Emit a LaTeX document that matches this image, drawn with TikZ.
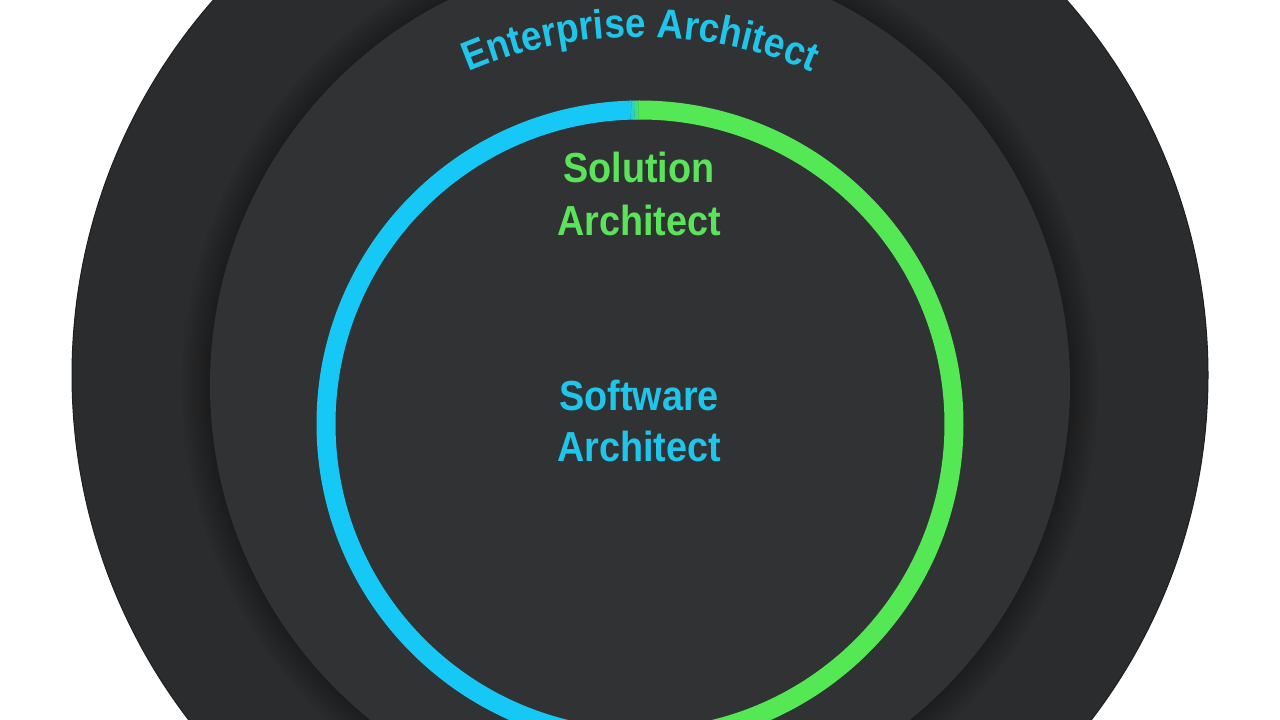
\documentclass[tikz,border=0pt]{standalone}
\usepackage{fontspec}
\setmainfont{Liberation Sans}
\newfontfamily\labfont[FakeStretch=0.9]{Liberation Sans}
\usetikzlibrary{decorations.text}
\definecolor{outerdisc}{RGB}{43,44,46}
\definecolor{outeredge}{RGB}{30,31,33}
\definecolor{middisc}{RGB}{49,50,52}
\definecolor{ringblue}{RGB}{22,200,245}
\definecolor{ringgreen}{RGB}{85,232,85}
\definecolor{textblue}{RGB}{30,198,235}
\definecolor{textgreen}{RGB}{90,228,90}
\newcommand\entfmt{\labfont\bfseries\fontsize{41}{44}\selectfont\color{textblue}}
\begin{document}
\begin{tikzpicture}[x=1pt,y=1pt,
  lab/.style={font=\labfont\bfseries\fontsize{42}{46}\selectfont, inner sep=0pt, anchor=base},
  ringarc/.style={line width=19pt, line cap=butt}]
\useasboundingbox (0,0) rectangle (1280,720);
\clip (0,0) rectangle (1280,720);
\fill[white] (0,0) rectangle (1280,720);
% outer disc
\fill[outerdisc, draw=outeredge, line width=1pt] (640,345) circle (568);
% middle disc with soft shadow
\foreach \k in {1,...,14} \fill[black,opacity=0.025] (640,335) circle ({430+2*\k});
\fill[middisc] (640,335) circle (430);
% inner ring
\draw[ringarc, ringblue] ([shift={(92:314)}]640,296) arc[start angle=92, end angle=270, radius=314];
\draw[ringarc, ringgreen] ([shift={(-90.1:314)}]640,296) arc[start angle=-90.1, end angle=90.1, radius=314];
\foreach \i in {0,...,7} {
  \pgfmathsetmacro\a{90+\i*0.25}
  \pgfmathsetmacro\p{100-\i*100/7}
  \draw[ringarc, ringgreen!\p!ringblue] ([shift={(\a:314)}]640,296) arc[start angle=\a, end angle=\a+0.3, radius=314];
}
% curved label
\path[decorate, decoration={text along path, text align=center,
  text={|\entfmt|Enterprise Architect}}]
  ([shift={(116:440)}]640,243) arc[start angle=116, end angle=64, radius=440];
% labels
\node[lab, text=textgreen] (sol1) at (639,537) {Solution};
\node[lab, text=textgreen] (sol2) at (639,484) {Architect};
\node[lab, text=textblue] (sw1) at (639,309) {Software};
\node[lab, text=textblue] (sw2) at (639,258) {Architect};
\end{tikzpicture}
\end{document}
